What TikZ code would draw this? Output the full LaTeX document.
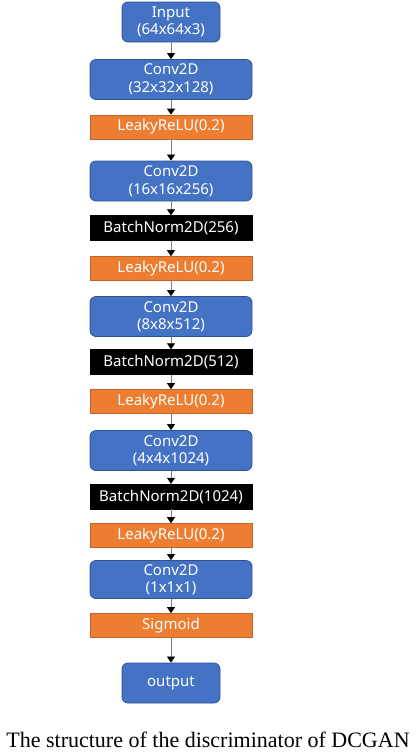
\documentclass[tikz,border=0pt]{standalone}
\usepackage{fontspec}
\setmainfont{Liberation Serif}
\newfontfamily\boxfont{Noto Sans}
\usetikzlibrary{arrows.meta}
\definecolor{convblue}{HTML}{4472C4}
\definecolor{convedge}{HTML}{2F528F}
\definecolor{actorange}{HTML}{ED7D31}
\definecolor{actedge}{HTML}{C0652A}
\definecolor{linegray}{HTML}{7F7F7F}
\tikzset{
  base/.style={inner sep=0pt, align=center, text=white, font=\boxfont\fontsize{15}{17.5}\selectfont},
  conv/.style={base, fill=convblue, draw=convedge, line width=0.8pt, rounded corners=6pt, minimum width=162pt, minimum height=40pt},
  small/.style={conv, minimum width=98pt},
  act/.style={base, fill=actorange, draw=actedge, line width=0.6pt, minimum width=162pt, minimum height=24pt},
  bn/.style={base, fill=black, draw=black, minimum width=162pt, minimum height=25pt},
  link/.style={draw=linegray, line width=0.7pt, -{Triangle[length=6pt,width=8pt,color=black]}},
}
\begin{document}
\begin{tikzpicture}[x=1pt,y=1pt]
\useasboundingbox (0,0) rectangle (416,-756);
\node[small] (in) at (171,-22) {Input\\(64x64x3)};
\node[conv] (c1) at (171,-79.5) {Conv2D\\(32x32x128)};
\node[act] (l1) at (171,-127) {LeakyReLU(0.2)};
\node[conv] (c2) at (171,-181) {Conv2D\\(16x16x256)};
\node[bn] (b2) at (171,-228) {BatchNorm2D(256)};
\node[act] (l2) at (171,-268.5) {LeakyReLU(0.2)};
\node[conv] (c3) at (171,-316.5) {Conv2D\\(8x8x512)};
\node[bn] (b3) at (171,-362) {BatchNorm2D(512)};
\node[act] (l3) at (171,-401.5) {LeakyReLU(0.2)};
\node[conv] (c4) at (171,-450.5) {Conv2D\\(4x4x1024)};
\node[bn] (b4) at (171,-496.5) {BatchNorm2D(1024)};
\node[act] (l4) at (171,-535.5) {LeakyReLU(0.2)};
\node[conv, minimum height=38pt] (c5) at (171,-579.5) {Conv2D\\(1x1x1)};
\node[act] (s) at (171,-625.5) {Sigmoid};
\node[small] (out) at (171,-683) {output};
\foreach \a/\b in {in/c1,c1/l1,l1/c2,c2/b2,b2/l2,l2/c3,c3/b3,b3/l3,l3/c4,c4/b4,b4/l4,l4/c5,c5/s,s/out}
  \draw[link] (\a) -- (\b);
\node[inner sep=0pt, anchor=base, font=\fontsize{22}{26}\selectfont] (cap) at (208,-747) {The structure of the discriminator of DCGAN};
\end{tikzpicture}
\end{document}
